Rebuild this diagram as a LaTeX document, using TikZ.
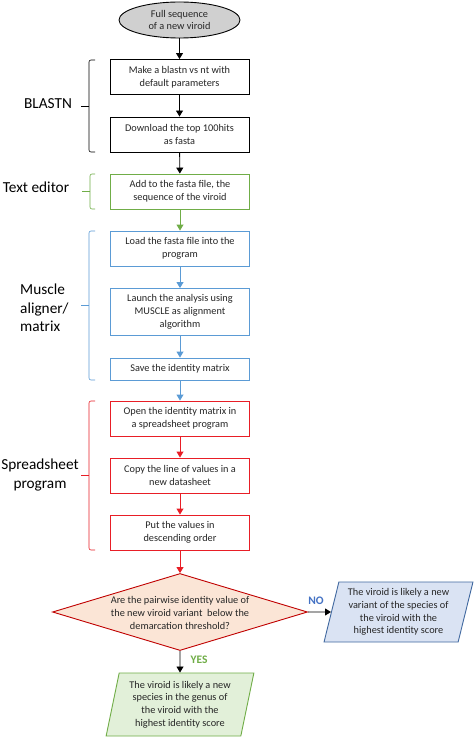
\documentclass[tikz,border=0pt]{standalone}
\usepackage{fontspec}
\setmainfont{Carlito}
\usetikzlibrary{shapes.geometric,arrows.meta}
\definecolor{cgreen}{RGB}{112,173,71}
\definecolor{cblue}{RGB}{91,155,213}
\definecolor{cred}{RGB}{232,30,38}
\definecolor{cdred}{RGB}{192,0,0}
\definecolor{cpeach}{RGB}{251,229,214}
\definecolor{clblue}{RGB}{218,227,243}
\definecolor{cpblue}{RGB}{65,105,160}
\definecolor{clgreen}{RGB}{226,240,217}
\definecolor{cnoblue}{RGB}{68,114,196}
\definecolor{ctext}{RGB}{38,38,38}
\definecolor{cgray}{RGB}{208,208,208}
\begin{document}
\begin{tikzpicture}[x=1pt,y=-1pt,
  box/.style={draw, line width=0.9pt, fill=white, minimum width=139pt, inner sep=0pt, align=center, text=ctext, font=\fontsize{10.3}{12.7}\selectfont},
  arr/.style={line width=0.9pt, -{Triangle[width=7pt,length=6pt]}},
  brace/.style={line width=0.6pt, rounded corners=2pt},
  lbl/.style={font=\fontsize{15.3}{18.5}\selectfont, text=black, inner sep=0pt},
  para/.style={trapezium, trapezium stretches=true, draw, line width=0.9pt, inner sep=0pt, align=center, text=ctext, font=\fontsize{10.3}{12.7}\selectfont},
  yn/.style={font=\bfseries\fontsize{11.5}{13}\selectfont, inner sep=0pt}
]
\useasboundingbox (0,0) rectangle (474,738);
\fill[white] (0,0) rectangle (474,738);

% start
\node[ellipse, draw, line width=0.9pt, fill=cgray, minimum width=121pt, minimum height=36pt, inner sep=0pt, align=center, text=ctext, font=\fontsize{10.3}{12.7}\selectfont] (start) at (179.5,20) {Full sequence\\ of a new viroid};

% BLASTN
\node[box, minimum height=35pt] (b1) at (179.5,77) {Make a blastn vs nt with\\ default parameters};
\node[box, minimum height=35pt] (b2) at (179.5,134.5) {Download the top 100hits\\ as fasta};
% text editor
\node[box, draw=cgreen, minimum height=35pt] (b3) at (180,191.5) {Add to the fasta file, the\\ sequence of the viroid};
% muscle
\node[box, draw=cblue, minimum height=35pt] (b4) at (180,248.5) {Load the fasta file into the\\ program};
\node[box, draw=cblue, minimum height=47pt] (b5) at (180,312) {Launch the analysis using\\ MUSCLE as alignment\\ algorithm};
\node[box, draw=cblue, minimum height=22pt] (b6) at (180,369) {Save the identity matrix};
% spreadsheet
\node[box, draw=cred, minimum height=35pt] (b7) at (180,418.5) {Open the identity matrix in\\ a spreadsheet program};
\node[box, draw=cred, minimum height=35pt] (b8) at (180,475.5) {Copy the line of values in a\\ new datasheet};
\node[box, draw=cred, minimum height=35pt] (b9) at (180,532.5) {Put the values in\\ descending order};

% decision
\node[diamond, draw=cdred, fill=cpeach, line width=0.9pt, minimum width=255pt, minimum height=77pt, inner sep=0pt] (dia) at (180,612) {};
\node[align=center, text=ctext, inner sep=0pt, font=\fontsize{10.3}{12.8}\selectfont] (diatext) at (180,613) {Are the pairwise identity value of\\ the new viroid variant \ below the\\ demarcation threshold?};

\node[para, draw=cpblue, fill=clblue, trapezium left angle=75, trapezium right angle=105, minimum width=149pt, minimum height=60pt] (pno) at (398.5,612) {The viroid is likely a new\\ variant of the species of\\ the viroid with the\\ highest identity score};
\node[para, draw=cgreen, fill=clgreen, trapezium left angle=77, trapezium right angle=103, minimum width=148pt, minimum height=63pt] (pyes) at (180,704.5) {The viroid is likely a new\\ species in the genus of\\ the viroid with the\\ highest identity score};

\node[yn, text=cnoblue] (no) at (316,601) {NO};
\node[yn, text=cgreen] (yes) at (199,660) {YES};

% arrows
\draw[arr] (start) -- (b1);
\draw[arr] (b1) -- (b2);
\draw[arr] (b2) -- (b3);
\draw[arr, cgreen] (b3) -- (b4);
\draw[arr, cblue] (b4) -- (b5);
\draw[arr, cblue] (b5) -- (b6);
\draw[arr, cblue] (b6) -- (b7);
\draw[arr, cred] (b7) -- (b8);
\draw[arr, cred] (b8) -- (b9);
\draw[arr, cred] (b9) -- (dia.north);
\draw[arr] (dia.east) -- (pno.west);
\draw[arr] (dia.south) -- (pyes.north);

% braces
\draw[brace, black] (95,60) -- (89,60) -- (89,152) -- (95,152);
\draw[brace, black] (89,106) -- (81,106);
\draw[brace, cgreen] (95,174) -- (90,174) -- (90,209) -- (95,209);
\draw[brace, cgreen] (90,191.5) -- (82,191.5);
\draw[brace, cblue] (95,231) -- (89,231) -- (89,380) -- (95,380);
\draw[brace, cblue] (89,305.5) -- (81,305.5);
\draw[brace, cred] (95,401) -- (89,401) -- (89,550) -- (95,550);
\draw[brace, cred] (89,475.5) -- (81,475.5);

% labels
\node[lbl] (lblast) at (48,104) {BLASTN};
\node[lbl] (ltext) at (36,187) {Text editor};
\node[lbl, align=left, anchor=west] (lmus) at (20,308) {Muscle\\ aligner/\\ matrix};
\node[lbl, align=center] (lspr) at (40,475) {Spreadsheet\\ program};
\end{tikzpicture}
\end{document}
